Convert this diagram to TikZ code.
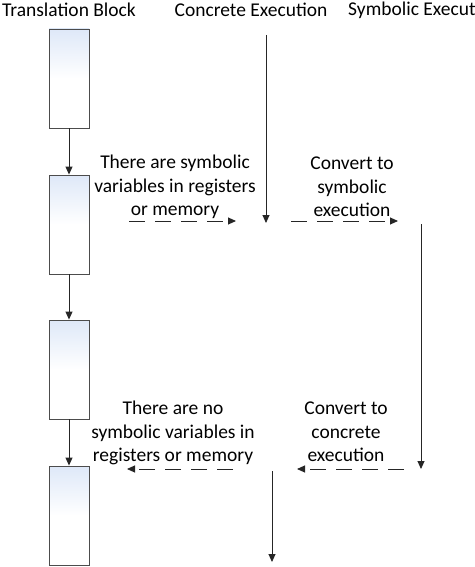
\documentclass[tikz,border=0pt]{standalone}
\usepackage{fontspec}
\setmainfont{Carlito}
\usetikzlibrary{arrows.meta, positioning}
\definecolor{tbtop}{RGB}{222,232,248}

\begin{document}
\begin{tikzpicture}[x=1pt, y=-1pt,
   tblock/.style={draw=black!70, line width=0.9pt, rectangle, minimum width=40pt, minimum height=99pt,
      inner sep=0pt, top color=tbtop, bottom color=white, middle color=white, shading angle=0},
   flow/.style={-{Triangle[length=8pt, width=7pt]}, line width=0.9pt, black!85},
   switch/.style={flow, dash pattern=on 16pt off 10pt},
   lbl/.style={align=center, font=\fontsize{19.5}{23.5}\selectfont, inner sep=0pt},
   head/.style={font=\fontsize{19.5}{22}\selectfont, inner sep=0pt}]
\clip (0,0) rectangle (474,567);
\useasboundingbox (0,0) rectangle (474,567);

% Column headings
\node[head] (thead) at (69,10) {Translation Block};
\node[head] (chead) at (251,10) {Concrete Execution};
\node[head, anchor=west] (shead) at (348,10) {Symbolic Execution};

% Translation blocks
\node[tblock] (b1) at (69,78.5) {};
\node[tblock] (b2) at (69,224.5) {};
\node[tblock] (b3) at (69,369.5) {};
\node[tblock] (b4) at (69,515.5) {};

\draw[flow] (b1) -- (b2);
\draw[flow] (b2) -- (b3);
\draw[flow] (b3) -- (b4);

% Concrete and symbolic execution lines
\coordinate (c1top) at (266,35);
\coordinate (c1end) at (266,223);
\coordinate (s1top) at (421,224);
\coordinate (s1end) at (421,469);
\coordinate (c2top) at (272,471);
\coordinate (c2end) at (272,562);

\draw[flow] (c1top) -- (c1end);
\draw[flow] (s1top) -- (s1end);
\draw[flow] (c2top) -- (c2end);

% Switch to symbolic execution
\coordinate (a1) at (129,221);
\coordinate (a1end) at (236,221);
\coordinate (a2) at (291,221);
\coordinate (a2end) at (398,221);
\draw[switch] (a1) -- (a1end);
\draw[switch] (a2) -- (a2end);

\node[lbl] (symtxt) at (175,187) {There are symbolic\\variables in registers\\or memory};
\node[lbl] (tosym) at (352,187) {Convert to\\symbolic\\execution};

% Switch back to concrete execution
\coordinate (a3) at (404,469);
\coordinate (a3end) at (297,469);
\coordinate (a4) at (233,469);
\coordinate (a4end) at (127,469);
\draw[switch] (a3) -- (a3end);
\draw[switch] (a4) -- (a4end);

\node[lbl] (contxt) at (173,433) {There are no\\symbolic variables in\\registers or memory};
\node[lbl] (tocon) at (346,432) {Convert to\\concrete\\execution};
\end{tikzpicture}
\end{document}
